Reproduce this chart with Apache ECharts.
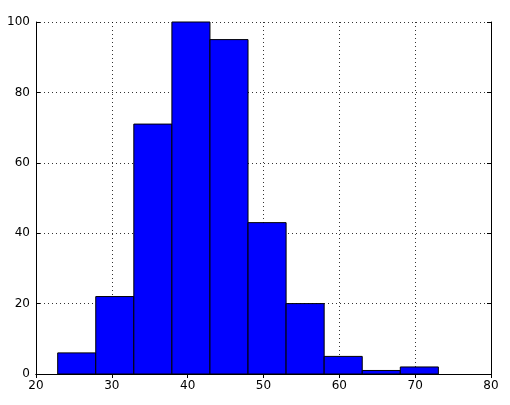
<!DOCTYPE html>
<html>
<head>
<meta charset="utf-8">
<script src="https://cdn.jsdelivr.net/npm/echarts@6/dist/echarts.min.js"></script>
<style>
  html, body { margin: 0; padding: 0; background: #fff; }
  #chart { width: 510px; height: 405px; }
</style>
</head>
<body>
<div id="chart"></div>
<script>
// histogram bins
const binEdges = [22.86, 27.88, 32.9, 37.92, 42.94, 47.96, 52.98, 58.0, 63.02, 68.04, 73.06]
const counts = [6, 22, 71, 100, 95, 43, 20, 5, 1, 2]
const xTicks = [20, 30, 40, 50, 60, 70, 80]
const yTicks = [0, 20, 40, 60, 80, 100]

const bars = counts.map((c, i) => [binEdges[i], binEdges[i + 1], c])

const font = { color: '#000', fontFamily: 'DejaVu Sans', fontSize: 12 }

const axisBase = {
  type: 'value',
  axisLine: { show: true, lineStyle: { color: '#000', width: 1 } },
  axisTick: { show: true, inside: true, length: 4, lineStyle: { color: '#000' } },
  splitLine: { show: false }
}

const chart = echarts.init(document.getElementById('chart'))

chart.setOption({
  animation: false,
  grid: { left: 36, right: 19, top: 22, bottom: 31 },
  xAxis: [
    Object.assign({}, axisBase, {
      min: xTicks[0], max: xTicks[xTicks.length - 1], interval: 10,
      position: 'bottom',
      axisLabel: Object.assign({ margin: 6 }, font),
      splitLine: { show: true, lineStyle: { color: '#000', type: [1, 3], width: 0.8 } }
    }),
    Object.assign({}, axisBase, {
      min: xTicks[0], max: xTicks[xTicks.length - 1], interval: 10,
      position: 'top', axisLabel: { show: false }
    })
  ],
  yAxis: [
    Object.assign({}, axisBase, {
      min: yTicks[0], max: yTicks[yTicks.length - 1], interval: 20,
      position: 'left',
      axisLabel: Object.assign({ margin: 6 }, font),
      splitLine: { show: true, lineStyle: { color: '#000', type: [1, 3], width: 0.8 } }
    }),
    Object.assign({}, axisBase, {
      min: yTicks[0], max: yTicks[yTicks.length - 1], interval: 20,
      position: 'right', axisLabel: { show: false }
    })
  ],
  series: [{
    type: 'custom',
    xAxisIndex: 0,
    yAxisIndex: 0,
    z: 5,
    data: bars,
    renderItem: (params, api) => {
      const p0 = api.coord([api.value(0), api.value(2)])
      const p1 = api.coord([api.value(1), 0])
      return {
        type: 'rect',
        shape: { x: p0[0], y: p0[1], width: p1[0] - p0[0], height: p1[1] - p0[1] },
        style: { fill: '#0000ff', stroke: '#000', lineWidth: 1 }
      }
    }
  }]
})
</script>
</body>
</html>
